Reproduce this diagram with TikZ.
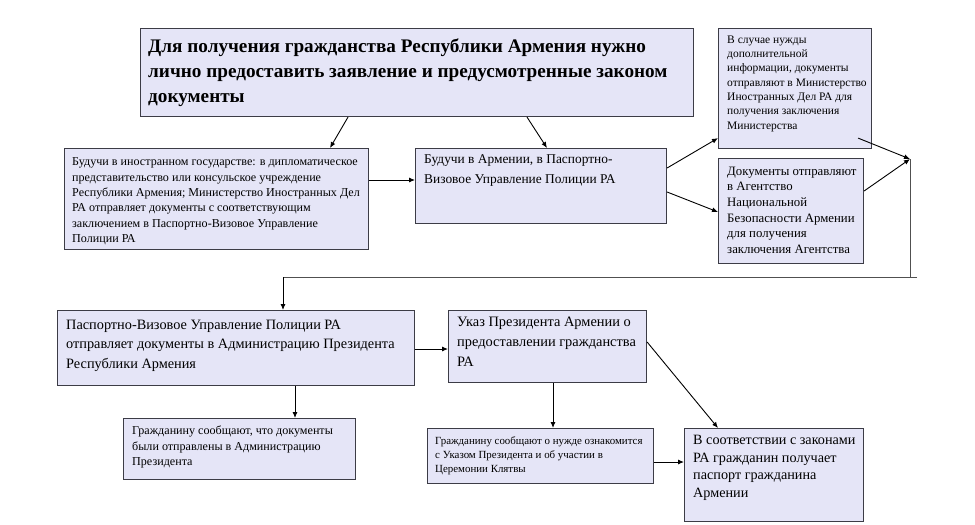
\documentclass[tikz,border=0pt]{standalone}
\usepackage{fontspec}
\setmainfont{Liberation Serif}
\usetikzlibrary{arrows.meta}
\definecolor{boxfill}{RGB}{229,229,247}
\definecolor{boxline}{RGB}{60,60,70}
\definecolor{wireline}{RGB}{80,80,80}
\begin{document}
\begin{tikzpicture}[x=1pt,y=-1pt,
  box/.style={draw=boxline, fill=boxfill, line width=1.1pt, anchor=north west, inner sep=0pt},
  txt/.style={anchor=north west, inner sep=0pt, align=left},
  arr/.style={-{Latex[length=6pt,width=5pt]}, line width=0.9pt, black},
  wire/.style={line width=0.9pt, wireline}]
\useasboundingbox[fill=white] (0,0) rectangle (975,525);
% boxes
\node[box, minimum width=553pt, minimum height=88pt] (T) at (140,28) {};
\node[box, minimum width=304pt, minimum height=101pt] (A) at (64,148) {};
\node[box, minimum width=251pt, minimum height=75pt] (B) at (415,148) {};
\node[box, minimum width=153pt, minimum height=120pt] (C) at (718,28) {};
\node[box, minimum width=145pt, minimum height=105pt] (D) at (718,158) {};
\node[box, minimum width=357pt, minimum height=75pt] (E) at (57,310) {};
\node[box, minimum width=198pt, minimum height=72pt] (F) at (448,310) {};
\node[box, minimum width=232pt, minimum height=61pt] (G) at (123,418) {};
\node[box, minimum width=226pt, minimum height=55pt] (H) at (427,428) {};
\node[box, minimum width=179pt, minimum height=93pt] (I) at (684,428) {};
% texts
\node[txt, font=\bfseries\fontsize{19.2}{25}\selectfont] (Tt) at (148,39)
  {Для получения гражданства Республики Армения нужно\\лично предоставить заявление и предусмотренные законом\\документы};
\node[txt, font=\fontsize{12.1}{15.4}\selectfont] (At) at (72,157.5)
  {Будучи в иностранном государстве: в дипломатическое\\представительство или консульское учреждение\\Республики Армения; Министерство Иностранных Дел\\РА отправляет документы с соответствующим\\заключением в Паспортно-Визовое Управление\\Полиции РА};
\node[txt, font=\fontsize{13.4}{20}\selectfont] (Bt) at (424,154.5)
  {Будучи в Армении, в Паспортно-\\Визовое Управление Полиции РА};
\node[txt, font=\fontsize{11.5}{14.3}\selectfont] (Ct) at (727,35.5)
  {В случае нужды\\дополнительной\\информации, документы\\отправляют в Министерство\\Иностранных Дел РА для\\получения заключения\\Министерства};
\node[txt, font=\fontsize{12.8}{15.7}\selectfont] (Dt) at (727,166.5)
  {Документы отправляют\\в Агентство\\Национальной\\Безопасности Армении\\для получения\\заключения Агентства};
\node[txt, font=\fontsize{14.3}{19.3}\selectfont] (Et) at (66,320)
  {Паспортно-Визовое Управление Полиции РА\\отправляет документы в Администрацию Президента\\Республики Армения};
\node[txt, font=\fontsize{14.4}{20}\selectfont] (Ft) at (457,317)
  {Указ Президента Армении о\\предоставлении гражданства\\РА};
\node[txt, font=\fontsize{12.1}{15.5}\selectfont] (Gt) at (132,426)
  {Гражданину сообщают, что документы\\были отправлены в Администрацию\\Президента};
\node[txt, font=\fontsize{10.9}{14}\selectfont] (Ht) at (435,436.5)
  {Гражданину сообщают о нужде ознакомится\\с Указом Президента и об участии в\\Церемонии Клятвы};
\node[txt, font=\fontsize{14.2}{17.7}\selectfont] (It) at (693,435)
  {В соответствии с законами\\РА гражданин получает\\паспорт гражданина\\Армении};
% junction
\coordinate (J) at (910,159);
\coordinate (Jb) at (910,277);
\coordinate (Jr) at (917,277);
\coordinate (Ek) at (283,277);
% connectors
\draw[arr] ([xshift=208pt]T.south west) -- ([xshift=266pt]A.north west);
\draw[arr] ([xshift=387pt]T.south west) -- ([xshift=132pt]B.north west);
\draw[arr] ([yshift=-32pt]A.north east) -- ([yshift=-32pt]B.north west);
\draw[arr] ([yshift=-20pt]B.north east) -- ([yshift=11pt]C.south west);
\draw[arr] ([yshift=-44pt]B.north east) -- ([yshift=-54pt]D.north west);
\draw[arr] ([shift={(-14,-11)}]C.south east) -- (J);
\draw[arr] ([yshift=-33pt]D.north east) -- (J);
\draw[wire] (J) -- (Jb);
\draw[wire] (Jr) -- (Ek);
\draw[arr] (Ek) -- ([xshift=226pt]E.north west);
\draw[arr] ([yshift=-39pt]E.north east) -- ([yshift=-39pt]F.north west);
\draw[arr] ([xshift=238pt]E.south west) -- ([xshift=172pt]G.north west);
\draw[arr] ([xshift=105pt]F.south west) -- ([xshift=126pt]H.north west);
\draw[arr] ([yshift=-32pt]F.north east) -- ([xshift=34pt]I.north west);
\draw[arr] ([yshift=-34pt]H.north east) -- ([yshift=-34pt]I.north west);
\end{tikzpicture}
\end{document}
